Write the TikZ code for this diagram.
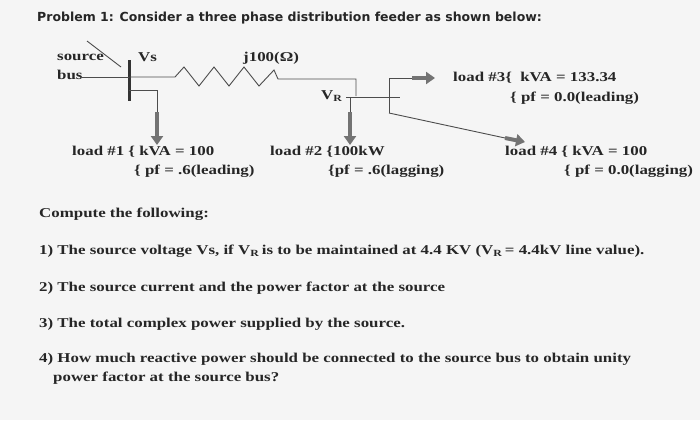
\documentclass[tikz,border=0pt]{standalone}
\usepackage{fontspec}
\setmainfont{Liberation Serif}[FakeStretch=1.25]
\setsansfont{DejaVu Sans}
\usetikzlibrary{arrows.meta}
\begin{document}
\begin{tikzpicture}[x=1pt,y=-1pt,
  txt/.style={anchor=west,inner sep=0,font=\bfseries\fontsize{13.5}{15}\selectfont,text=black!85},
  wire/.style={draw=black!70,line width=0.9pt},
  garrow/.style={draw=black!55,line width=4pt,-{Triangle[length=9pt,width=12pt]}}]
\fill[gray!8] (0,0) rectangle (700,420);
\useasboundingbox (0,0) rectangle (700,420);
\node[txt,font=\sffamily\bfseries\fontsize{12.5}{14}\selectfont] (title) at (37,18) {Problem 1: Consider a three phase distribution feeder as shown below:};
% network
\node[txt] (src) at (57,57) {source};
\node[txt] (bus) at (57,75) {bus};
\coordinate (d1) at (87,41); \coordinate (d2) at (121,67);
\draw[wire] (d1) -- (d2);
\coordinate (b0) at (80,77);
\coordinate (bt) at (129,60); \coordinate (bb) at (129,101);
\draw[black!80,line width=3pt] (bt) -- (bb);
\draw[wire] (b0) -- (129,77);
\node[txt] (vs) at (138,57) {Vs};
\node[txt] (z) at (243,58) {j100(Ω)};
\coordinate (r0) at (175,77);
\draw[wire] (129,77) -- (r0) -- (184,67) -- (199,86) -- (214,67) -- (229,86) -- (244,67) -- (259,86) -- (274,70) -- (278,79) -- (356,79) -- (356,96);
\node[txt] (vr) at (321,96) {V$_{\mathbf R}$};
\coordinate (vr1) at (346,97); \coordinate (vr2) at (400,97);
\draw[wire] (vr1) -- (vr2);
% load 1
\coordinate (l1a) at (129,90);
\draw[wire] (l1a) -- (157,90) -- (157,112);
\coordinate (l1t) at (157,145);
\draw[garrow] (157,112) -- (l1t);
% load 2
\coordinate (l2a) at (350,97);
\draw[wire] (l2a) -- (350,112);
\coordinate (l2t) at (350,145);
\draw[garrow] (350,112) -- (l2t);
% load 3 & 4
\draw[wire] (389,113) -- (389,78) -- (412,78);
\coordinate (l3t) at (435,78);
\draw[garrow] (412,78) -- (l3t);
\draw[wire] (389,113) -- (505,138);
\coordinate (l4t) at (525,142);
\draw[garrow] (505,138) -- (l4t);
% labels
\node[txt] (t1a) at (72,152) {load \#1 \{ kVA = 100};
\node[txt] (t1b) at (134,171) {\{ pf = .6(leading)};
\node[txt] (t2a) at (270,152) {load \#2 \{100kW};
\node[txt] (t2b) at (328,171) {\{pf = .6(lagging)};
\node[txt] (t3a) at (453,78) {load \#3\{ \ kVA = 133.34};
\node[txt] (t3b) at (510,98) {\{ pf = 0.0(leading)};
\node[txt] (t4a) at (505,152) {load \#4 \{ kVA = 100};
\node[txt] (t4b) at (564,171) {\{ pf = 0.0(lagging)};
% questions
\node[txt] (q0) at (39,214) {Compute the following:};
\node[txt] (q1) at (39,251) {1) The source voltage Vs, if V$_{\mathbf R}$ is to be maintained at 4.4 KV (V$_{\mathbf R}$ = 4.4kV line value).};
\node[txt] (q2) at (39,288) {2) The source current and the power factor at the source};
\node[txt] (q3) at (39,324) {3) The total complex power supplied by the source.};
\node[txt] (q4) at (39,359) {4) How much reactive power should be connected to the source bus to obtain unity};
\node[txt] (q5) at (53,378) {power factor at the source bus?};
\end{tikzpicture}
\end{document}
